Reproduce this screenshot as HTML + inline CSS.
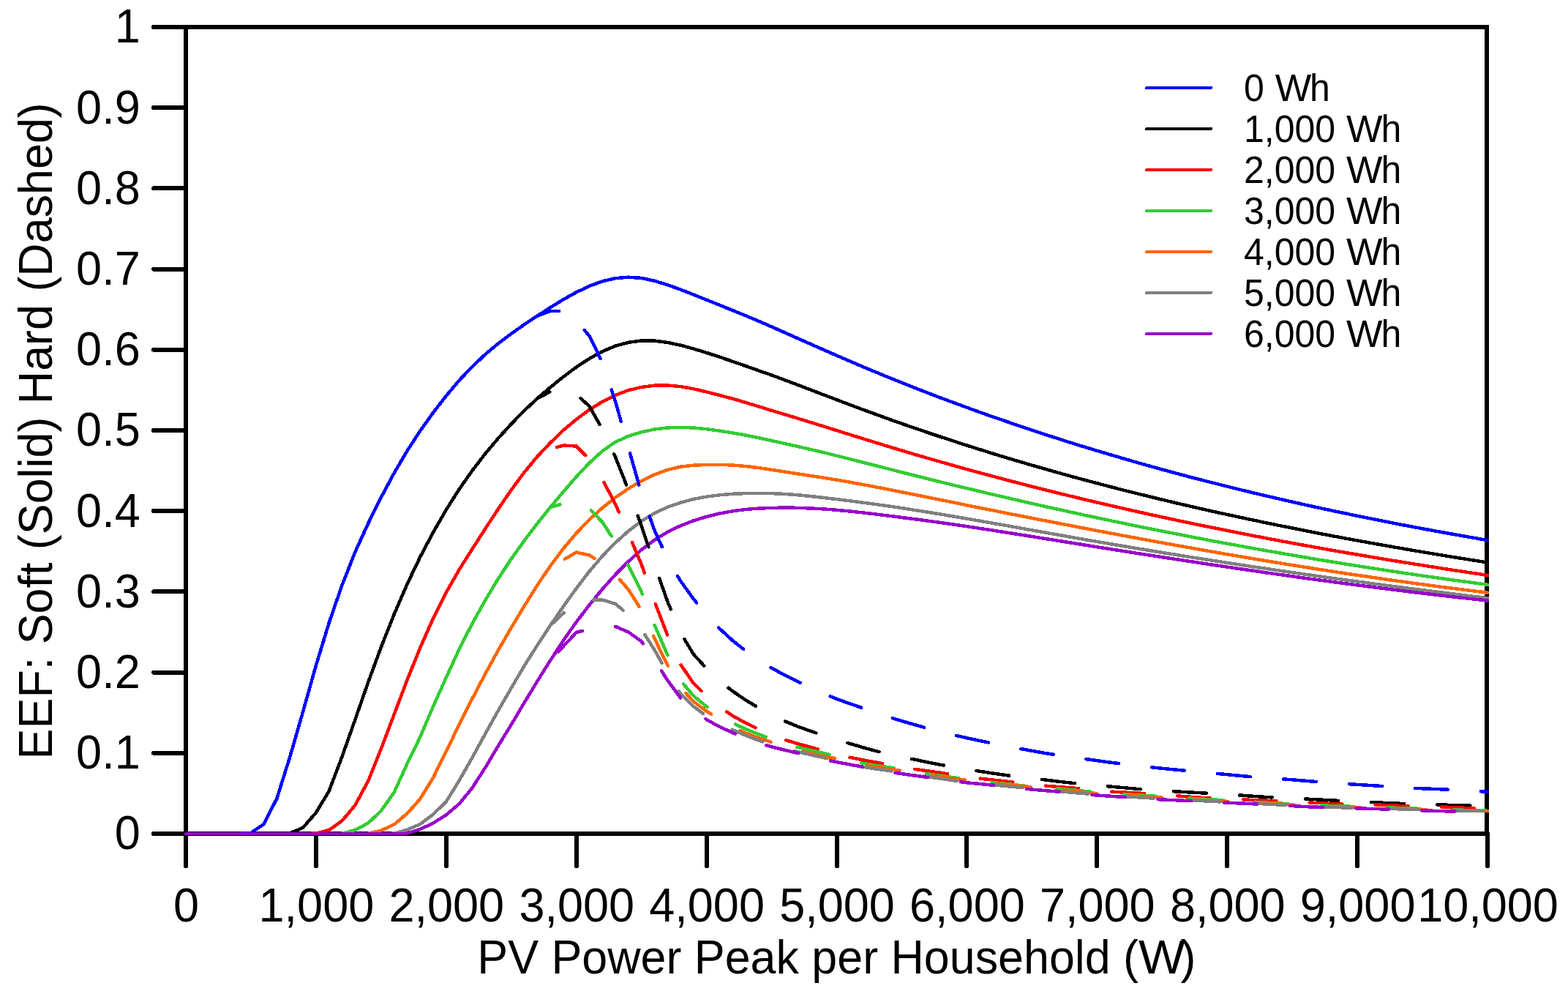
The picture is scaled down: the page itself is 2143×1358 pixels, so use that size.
<!DOCTYPE html>
<html lang="en"><head><meta charset="utf-8"><title>EEF vs PV Power Peak per Household</title>
<style>html,body{margin:0;padding:0;background:#fff}body{width:2143px;height:1358px;overflow:hidden}svg{display:block}text{font-family:"Liberation Sans",sans-serif;fill:#000}</style></head><body>
<svg width="2143" height="1358" viewBox="0 0 2143 1358">
<rect width="2143" height="1358" fill="#fff"/>
<g stroke="#000" stroke-width="6" fill="none" stroke-linecap="round" shape-rendering="crispEdges">
<path d="M254 37 L254 1139 M2032 37 L2032 1139 M254 37 L2032 37 M254 1139 L2032 1139" stroke-linecap="square"/>
<line x1="210" y1="1139.0" x2="254" y2="1139.0"/>
<line x1="210" y1="1028.8" x2="254" y2="1028.8"/>
<line x1="210" y1="918.6" x2="254" y2="918.6"/>
<line x1="210" y1="808.4" x2="254" y2="808.4"/>
<line x1="210" y1="698.2" x2="254" y2="698.2"/>
<line x1="210" y1="588.0" x2="254" y2="588.0"/>
<line x1="210" y1="477.8" x2="254" y2="477.8"/>
<line x1="210" y1="367.6" x2="254" y2="367.6"/>
<line x1="210" y1="257.4" x2="254" y2="257.4"/>
<line x1="210" y1="147.2" x2="254" y2="147.2"/>
<line x1="210" y1="37.0" x2="254" y2="37.0"/>
<line x1="254" y1="1139" x2="254" y2="1183"/>
<line x1="432" y1="1139" x2="432" y2="1183"/>
<line x1="610" y1="1139" x2="610" y2="1183"/>
<line x1="788" y1="1139" x2="788" y2="1183"/>
<line x1="966" y1="1139" x2="966" y2="1183"/>
<line x1="1144" y1="1139" x2="1144" y2="1183"/>
<line x1="1321" y1="1139" x2="1321" y2="1183"/>
<line x1="1499" y1="1139" x2="1499" y2="1183"/>
<line x1="1677" y1="1139" x2="1677" y2="1183"/>
<line x1="1855" y1="1139" x2="1855" y2="1183"/>
<line x1="2033" y1="1139" x2="2033" y2="1183"/>
</g>
<g fill="none" stroke-width="4.5" stroke-linejoin="round" stroke-linecap="round" shape-rendering="crispEdges">
<path d="M254.0 1139.0 L271.8 1139.0 L289.6 1139.0 L307.4 1139.0 L325.2 1139.0" stroke="#0000ff" stroke-width="4"/>
<path d="M325.2 1139.0 L342.9 1138.0 L360.7 1125.8 L378.5 1090.6 L396.3 1033.9 L414.1 972.2 L431.9 909.1 L449.7 850.8 L467.5 799.3 L485.3 754.3 L503.1 715.3 L520.9 679.5 L538.6 646.4 L556.4 616.1 L574.2 588.7 L592.0 563.8 L609.8 540.8 L627.6 519.7 L645.4 500.9 L663.2 484.1 L681.0 469.2 L698.8 455.9 L716.5 443.4 L734.3 431.6 L752.1 420.1 L769.9 409.2 L787.7 399.3 L805.5 390.8 L823.3 384.3 L841.1 380.2 L858.9 378.7 L876.6 379.9 L894.4 383.7 L912.2 389.1 L930.0 395.6 L947.8 402.5 L965.6 409.6 L983.4 416.8 L1001.2 424.0 L1019.0 431.2 L1036.8 438.7 L1054.5 446.4 L1072.3 454.3 L1090.1 462.2 L1107.9 470.1 L1125.7 477.9 L1143.5 485.7 L1161.3 493.4 L1179.1 501.0 L1196.9 508.4 L1214.7 515.7 L1232.5 522.8 L1250.2 529.9 L1268.0 536.8 L1285.8 543.6 L1303.6 550.2 L1321.4 556.7 L1339.2 563.2 L1357.0 569.5 L1374.8 575.6 L1392.6 581.7 L1410.3 587.7 L1428.1 593.5 L1445.9 599.2 L1463.7 604.9 L1481.5 610.4 L1499.3 615.8 L1517.1 621.1 L1534.9 626.3 L1552.7 631.5 L1570.5 636.5 L1588.2 641.4 L1606.0 646.2 L1623.8 651.0 L1641.6 655.6 L1659.4 660.1 L1677.2 664.6 L1695.0 669.0 L1712.8 673.3 L1730.6 677.5 L1748.4 681.6 L1766.2 685.7 L1783.9 689.7 L1801.7 693.6 L1819.5 697.4 L1837.3 701.1 L1855.1 704.8 L1872.9 708.4 L1890.7 712.0 L1908.5 715.5 L1926.3 718.9 L1944.0 722.2 L1961.8 725.5 L1979.6 728.7 L1997.4 731.9 L2015.2 735.0 L2033.0 738.1" stroke="#0000ff"/>
<path d="M254.0 1139.0 L271.8 1139.0 L289.6 1139.0 L307.4 1139.0 L325.2 1139.0 L342.9 1139.0 L360.7 1139.0 L378.5 1139.0" stroke="#000000" stroke-width="4"/>
<path d="M378.5 1139.0 L396.3 1138.3 L414.1 1130.8 L431.9 1110.2 L449.7 1080.6 L467.5 1033.7 L485.3 983.4 L503.1 932.3 L520.9 884.1 L538.6 839.3 L556.4 798.3 L574.2 761.0 L592.0 727.4 L609.8 696.4 L627.6 668.4 L645.4 643.0 L663.2 619.8 L681.0 598.7 L698.8 579.2 L716.5 561.0 L734.3 544.5 L752.1 529.2 L769.9 514.8 L787.7 501.6 L805.5 489.9 L823.3 480.1 L841.1 472.6 L858.9 467.8 L876.6 465.5 L894.4 465.6 L912.2 467.9 L930.0 471.6 L947.8 476.5 L965.6 481.9 L983.4 487.7 L1001.2 493.8 L1019.0 500.0 L1036.8 506.3 L1054.5 512.5 L1072.3 519.1 L1090.1 525.8 L1107.9 532.6 L1125.7 539.4 L1143.5 546.1 L1161.3 552.9 L1179.1 559.5 L1196.9 566.0 L1214.7 572.5 L1232.5 578.8 L1250.2 584.9 L1268.0 591.0 L1285.8 596.9 L1303.6 602.8 L1321.4 608.5 L1339.2 614.1 L1357.0 619.7 L1374.8 625.1 L1392.6 630.4 L1410.3 635.6 L1428.1 640.7 L1445.9 645.7 L1463.7 650.7 L1481.5 655.5 L1499.3 660.2 L1517.1 664.9 L1534.9 669.5 L1552.7 673.9 L1570.5 678.3 L1588.2 682.6 L1606.0 686.9 L1623.8 691.0 L1641.6 695.1 L1659.4 699.1 L1677.2 703.0 L1695.0 706.8 L1712.8 710.6 L1730.6 714.3 L1748.4 718.0 L1766.2 721.5 L1783.9 725.0 L1801.7 728.5 L1819.5 731.9 L1837.3 735.2 L1855.1 738.5 L1872.9 741.7 L1890.7 744.9 L1908.5 748.0 L1926.3 751.1 L1944.0 754.1 L1961.8 757.1 L1979.6 760.0 L1997.4 762.9 L2015.2 765.7 L2033.0 768.5" stroke="#000000"/>
<path d="M254.0 1139.0 L271.8 1139.0 L289.6 1139.0 L307.4 1139.0 L325.2 1139.0 L342.9 1139.0 L360.7 1139.0 L378.5 1139.0 L396.3 1139.0 L414.1 1139.0" stroke="#ff0000" stroke-width="4"/>
<path d="M414.1 1139.0 L431.9 1138.6 L449.7 1134.0 L467.5 1121.4 L485.3 1100.2 L503.1 1067.1 L520.9 1022.9 L538.6 976.1 L556.4 929.2 L574.2 885.0 L592.0 844.9 L609.8 809.3 L627.6 778.2 L645.4 750.1 L663.2 722.4 L681.0 695.3 L698.8 669.3 L716.5 645.3 L734.3 623.8 L752.1 605.0 L769.9 587.9 L787.7 572.9 L805.5 559.8 L823.3 548.8 L841.1 539.8 L858.9 533.2 L876.6 528.9 L894.4 526.7 L912.2 526.5 L930.0 528.1 L947.8 531.2 L965.6 535.4 L983.4 540.0 L1001.2 544.7 L1019.0 549.9 L1036.8 555.3 L1054.5 560.8 L1072.3 566.1 L1090.1 571.5 L1107.9 577.0 L1125.7 582.5 L1143.5 588.1 L1161.3 593.7 L1179.1 599.2 L1196.9 604.7 L1214.7 610.2 L1232.5 615.5 L1250.2 620.8 L1268.0 626.0 L1285.8 631.1 L1303.6 636.1 L1321.4 641.1 L1339.2 646.0 L1357.0 650.7 L1374.8 655.5 L1392.6 660.1 L1410.3 664.7 L1428.1 669.2 L1445.9 673.6 L1463.7 677.9 L1481.5 682.2 L1499.3 686.4 L1517.1 690.5 L1534.9 694.6 L1552.7 698.6 L1570.5 702.6 L1588.2 706.4 L1606.0 710.3 L1623.8 714.0 L1641.6 717.7 L1659.4 721.3 L1677.2 724.9 L1695.0 728.4 L1712.8 731.9 L1730.6 735.3 L1748.4 738.7 L1766.2 742.0 L1783.9 745.2 L1801.7 748.4 L1819.5 751.6 L1837.3 754.7 L1855.1 757.7 L1872.9 760.7 L1890.7 763.7 L1908.5 766.6 L1926.3 769.5 L1944.0 772.3 L1961.8 775.1 L1979.6 777.9 L1997.4 780.6 L2015.2 783.3 L2033.0 785.9" stroke="#ff0000"/>
<path d="M254.0 1139.0 L271.8 1139.0 L289.6 1139.0 L307.4 1139.0 L325.2 1139.0 L342.9 1139.0 L360.7 1139.0 L378.5 1139.0 L396.3 1139.0 L414.1 1139.0 L431.9 1139.0 L449.7 1139.0" stroke="#33cc33" stroke-width="4"/>
<path d="M449.7 1139.0 L467.5 1138.8 L485.3 1134.0 L503.1 1124.6 L520.9 1107.7 L538.6 1082.6 L556.4 1043.6 L574.2 1007.0 L592.0 965.1 L609.8 925.6 L627.6 886.9 L645.4 851.9 L663.2 820.1 L681.0 790.4 L698.8 763.5 L716.5 738.7 L734.3 715.2 L752.1 693.2 L769.9 671.9 L787.7 651.3 L805.5 632.4 L823.3 616.2 L841.1 603.9 L858.9 595.8 L876.6 590.3 L894.4 586.6 L912.2 584.4 L930.0 583.8 L947.8 584.5 L965.6 586.2 L983.4 588.6 L1001.2 591.4 L1019.0 594.5 L1036.8 598.2 L1054.5 602.0 L1072.3 606.0 L1090.1 609.9 L1107.9 614.0 L1125.7 618.2 L1143.5 622.6 L1161.3 627.1 L1179.1 631.6 L1196.9 636.1 L1214.7 640.7 L1232.5 645.2 L1250.2 649.7 L1268.0 654.1 L1285.8 658.5 L1303.6 662.9 L1321.4 667.1 L1339.2 671.4 L1357.0 675.6 L1374.8 679.7 L1392.6 683.8 L1410.3 687.9 L1428.1 691.9 L1445.9 695.8 L1463.7 699.7 L1481.5 703.6 L1499.3 707.4 L1517.1 711.1 L1534.9 714.8 L1552.7 718.5 L1570.5 722.1 L1588.2 725.6 L1606.0 729.1 L1623.8 732.6 L1641.6 736.0 L1659.4 739.4 L1677.2 742.7 L1695.0 745.9 L1712.8 749.2 L1730.6 752.3 L1748.4 755.4 L1766.2 758.5 L1783.9 761.5 L1801.7 764.5 L1819.5 767.4 L1837.3 770.3 L1855.1 773.1 L1872.9 775.9 L1890.7 778.6 L1908.5 781.3 L1926.3 784.0 L1944.0 786.6 L1961.8 789.1 L1979.6 791.6 L1997.4 794.0 L2015.2 796.4 L2033.0 798.8" stroke="#33cc33"/>
<path d="M254.0 1139.0 L271.8 1139.0 L289.6 1139.0 L307.4 1139.0 L325.2 1139.0 L342.9 1139.0 L360.7 1139.0 L378.5 1139.0 L396.3 1139.0 L414.1 1139.0 L431.9 1139.0 L449.7 1139.0 L467.5 1139.0 L485.3 1139.0" stroke="#ff6600" stroke-width="4"/>
<path d="M485.3 1139.0 L503.1 1138.8 L520.9 1134.6 L538.6 1126.4 L556.4 1111.5 L574.2 1091.5 L592.0 1062.6 L609.8 1026.3 L627.6 990.0 L645.4 954.6 L663.2 920.6 L681.0 888.3 L698.8 857.5 L716.5 828.0 L734.3 799.5 L752.1 773.3 L769.9 749.5 L787.7 728.4 L805.5 709.9 L823.3 693.8 L841.1 679.7 L858.9 667.5 L876.6 657.0 L894.4 648.4 L912.2 641.9 L930.0 637.7 L947.8 635.7 L965.6 634.9 L983.4 634.8 L1001.2 635.5 L1019.0 637.0 L1036.8 639.1 L1054.5 641.8 L1072.3 644.5 L1090.1 647.3 L1107.9 650.0 L1125.7 652.7 L1143.5 655.6 L1161.3 658.7 L1179.1 662.0 L1196.9 665.3 L1214.7 668.8 L1232.5 672.3 L1250.2 675.8 L1268.0 679.4 L1285.8 683.0 L1303.6 686.6 L1321.4 690.2 L1339.2 693.8 L1357.0 697.3 L1374.8 700.9 L1392.6 704.4 L1410.3 707.9 L1428.1 711.3 L1445.9 714.8 L1463.7 718.2 L1481.5 721.6 L1499.3 725.0 L1517.1 728.4 L1534.9 731.7 L1552.7 735.0 L1570.5 738.3 L1588.2 741.5 L1606.0 744.7 L1623.8 747.9 L1641.6 751.1 L1659.4 754.2 L1677.2 757.3 L1695.0 760.3 L1712.8 763.3 L1730.6 766.3 L1748.4 769.2 L1766.2 772.1 L1783.9 774.9 L1801.7 777.7 L1819.5 780.4 L1837.3 783.2 L1855.1 785.8 L1872.9 788.4 L1890.7 791.0 L1908.5 793.5 L1926.3 796.0 L1944.0 798.4 L1961.8 800.8 L1979.6 803.1 L1997.4 805.3 L2015.2 807.5 L2033.0 809.7" stroke="#ff6600"/>
<path d="M254.0 1139.0 L271.8 1139.0 L289.6 1139.0 L307.4 1139.0 L325.2 1139.0 L342.9 1139.0 L360.7 1139.0 L378.5 1139.0 L396.3 1139.0 L414.1 1139.0 L431.9 1139.0 L449.7 1139.0 L467.5 1139.0 L485.3 1139.0 L503.1 1139.0 L520.9 1139.0" stroke="#808080" stroke-width="4"/>
<path d="M520.9 1139.0 L538.6 1138.7 L556.4 1133.7 L574.2 1126.0 L592.0 1112.7 L609.8 1095.2 L627.6 1066.4 L645.4 1035.1 L663.2 1002.6 L681.0 970.7 L698.8 939.9 L716.5 909.8 L734.3 881.6 L752.1 854.5 L769.9 828.6 L787.7 803.8 L805.5 780.6 L823.3 759.7 L841.1 741.4 L858.9 725.5 L876.6 712.0 L894.4 701.2 L912.2 692.9 L930.0 686.7 L947.8 681.9 L965.6 678.6 L983.4 676.3 L1001.2 674.8 L1019.0 674.1 L1036.8 673.8 L1054.5 674.1 L1072.3 674.9 L1090.1 676.2 L1107.9 678.0 L1125.7 680.0 L1143.5 682.1 L1161.3 684.3 L1179.1 686.6 L1196.9 689.0 L1214.7 691.5 L1232.5 694.1 L1250.2 696.9 L1268.0 699.7 L1285.8 702.6 L1303.6 705.6 L1321.4 708.6 L1339.2 711.7 L1357.0 714.8 L1374.8 717.9 L1392.6 721.1 L1410.3 724.3 L1428.1 727.5 L1445.9 730.6 L1463.7 733.8 L1481.5 736.9 L1499.3 740.0 L1517.1 743.0 L1534.9 746.0 L1552.7 749.0 L1570.5 751.9 L1588.2 754.9 L1606.0 757.7 L1623.8 760.6 L1641.6 763.4 L1659.4 766.1 L1677.2 768.9 L1695.0 771.6 L1712.8 774.3 L1730.6 776.9 L1748.4 779.5 L1766.2 782.1 L1783.9 784.7 L1801.7 787.2 L1819.5 789.7 L1837.3 792.1 L1855.1 794.5 L1872.9 796.9 L1890.7 799.3 L1908.5 801.6 L1926.3 803.9 L1944.0 806.2 L1961.8 808.4 L1979.6 810.6 L1997.4 812.8 L2015.2 815.0 L2033.0 817.1" stroke="#808080"/>
<path d="M254.0 1139.0 L271.8 1139.0 L289.6 1139.0 L307.4 1139.0 L325.2 1139.0 L342.9 1139.0 L360.7 1139.0 L378.5 1139.0 L396.3 1139.0 L414.1 1139.0 L431.9 1139.0 L449.7 1139.0 L467.5 1139.0 L485.3 1139.0 L503.1 1139.0 L520.9 1139.0 L538.6 1139.0" stroke="#9900cc" stroke-width="4"/>
<path d="M538.6 1139.0 L556.4 1138.5 L574.2 1132.9 L592.0 1124.6 L609.8 1113.3 L627.6 1098.3 L645.4 1076.4 L663.2 1048.8 L681.0 1018.9 L698.8 989.9 L716.5 960.1 L734.3 930.8 L752.1 902.3 L769.9 875.1 L787.7 849.8 L805.5 826.4 L823.3 804.8 L841.1 785.0 L858.9 767.1 L876.6 751.2 L894.4 737.8 L912.2 726.9 L930.0 718.3 L947.8 711.4 L965.6 705.9 L983.4 701.6 L1001.2 698.3 L1019.0 696.0 L1036.8 694.6 L1054.5 693.9 L1072.3 693.6 L1090.1 693.8 L1107.9 694.5 L1125.7 695.4 L1143.5 696.8 L1161.3 698.5 L1179.1 700.4 L1196.9 702.5 L1214.7 704.7 L1232.5 707.0 L1250.2 709.2 L1268.0 711.6 L1285.8 714.1 L1303.6 716.6 L1321.4 719.2 L1339.2 721.9 L1357.0 724.6 L1374.8 727.4 L1392.6 730.2 L1410.3 733.0 L1428.1 735.9 L1445.9 738.7 L1463.7 741.6 L1481.5 744.4 L1499.3 747.3 L1517.1 750.1 L1534.9 752.9 L1552.7 755.7 L1570.5 758.4 L1588.2 761.2 L1606.0 763.9 L1623.8 766.6 L1641.6 769.3 L1659.4 772.0 L1677.2 774.6 L1695.0 777.2 L1712.8 779.8 L1730.6 782.4 L1748.4 784.9 L1766.2 787.4 L1783.9 789.9 L1801.7 792.3 L1819.5 794.7 L1837.3 797.1 L1855.1 799.4 L1872.9 801.7 L1890.7 804.0 L1908.5 806.2 L1926.3 808.4 L1944.0 810.5 L1961.8 812.6 L1979.6 814.7 L1997.4 816.7 L2015.2 818.6 L2033.0 820.6" stroke="#9900cc"/>
<path d="M254.0 1139.0 L271.8 1139.0 L289.6 1139.0 L307.4 1139.0 L325.2 1139.0 L342.9 1138.0 L360.7 1125.8" stroke="#0000ff" stroke-width="4" stroke-dasharray="45.12 45.13"/>
<path d="M360.7 1125.8 L378.5 1090.6 L396.3 1033.9 L414.1 972.2 L431.9 909.1 L449.7 850.8 L467.5 799.3 L485.3 754.3 L503.1 715.3 L520.9 679.5 L538.6 646.4 L556.4 616.1 L574.2 588.7 L592.0 563.8 L609.8 540.8 L627.6 519.7 L645.4 500.9 L663.2 484.1 L681.0 469.2 L698.8 455.9 L716.5 443.4 L734.3 431.6 L752.1 425.0 L769.9 424.7 L787.7 437.0 L805.5 459.2 L823.3 495.2 L841.1 548.6 L858.9 611.6 L876.6 674.2 L894.4 724.1 L912.2 763.6 L930.0 793.5 L947.8 818.3 L965.6 840.0 L983.4 858.8 L1001.2 875.0 L1019.0 889.2 L1036.8 901.7 L1054.5 912.7 L1072.3 922.2 L1090.1 931.0 L1107.9 939.6 L1125.7 947.7 L1143.5 954.9 L1161.3 961.3 L1179.1 967.4 L1196.9 973.6 L1214.7 979.6 L1232.5 985.0 L1250.2 990.2 L1268.0 995.1 L1285.8 999.8 L1303.6 1004.2 L1321.4 1008.2 L1339.2 1012.0 L1357.0 1015.7 L1374.8 1019.2 L1392.6 1022.5 L1410.3 1025.8 L1428.1 1028.9 L1445.9 1031.8 L1463.7 1034.3 L1481.5 1036.7 L1499.3 1039.1 L1517.1 1041.6 L1534.9 1043.8 L1552.7 1046.0 L1570.5 1048.0 L1588.2 1049.8 L1606.0 1051.5 L1623.8 1053.1 L1641.6 1054.8 L1659.4 1056.5 L1677.2 1058.2 L1695.0 1059.9 L1712.8 1061.5 L1730.6 1062.8 L1748.4 1064.0 L1766.2 1065.3 L1783.9 1066.8 L1801.7 1068.2 L1819.5 1069.5 L1837.3 1070.7 L1855.1 1071.9 L1872.9 1073.0 L1890.7 1074.1 L1908.5 1075.3 L1926.3 1076.4 L1944.0 1077.3 L1961.8 1078.0 L1979.6 1078.7 L1997.4 1079.7 L2015.2 1080.7 L2033.0 1081.8" stroke="#0000ff" stroke-dasharray="45.12 45.13" stroke-dashoffset="19.5"/>
<path d="M254.0 1139.0 L271.8 1139.0 L289.6 1139.0 L307.4 1139.0 L325.2 1139.0 L342.9 1139.0 L360.7 1139.0 L378.5 1139.0 L396.3 1138.3 L414.1 1130.8" stroke="#000000" stroke-width="4" stroke-dasharray="45.12 45.13"/>
<path d="M414.1 1130.8 L431.9 1110.2 L449.7 1080.6 L467.5 1033.7 L485.3 983.4 L503.1 932.3 L520.9 884.1 L538.6 839.3 L556.4 798.3 L574.2 761.0 L592.0 727.4 L609.8 696.4 L627.6 668.4 L645.4 643.0 L663.2 619.8 L681.0 598.7 L698.8 579.2 L716.5 561.0 L734.3 544.5 L752.1 535.0 L769.9 533.0 L787.7 539.1 L805.5 554.9 L823.3 586.6 L841.1 624.5 L858.9 669.6 L876.6 718.1 L894.4 771.1 L912.2 821.4 L930.0 864.0 L947.8 893.8 L965.6 913.2 L983.4 930.0 L1001.2 944.2 L1019.0 956.4 L1036.8 967.1 L1054.5 976.7 L1072.3 985.2 L1090.1 992.4 L1107.9 998.9 L1125.7 1004.9 L1143.5 1010.5 L1161.3 1015.8 L1179.1 1021.1 L1196.9 1026.0 L1214.7 1030.2 L1232.5 1034.0 L1250.2 1037.7 L1268.0 1041.4 L1285.8 1044.9 L1303.6 1048.0 L1321.4 1051.0 L1339.2 1053.8 L1357.0 1056.5 L1374.8 1059.1 L1392.6 1061.4 L1410.3 1063.4 L1428.1 1065.4 L1445.9 1067.6 L1463.7 1069.6 L1481.5 1071.4 L1499.3 1072.9 L1517.1 1074.5 L1534.9 1076.1 L1552.7 1077.7 L1570.5 1079.1 L1588.2 1080.2 L1606.0 1081.3 L1623.8 1082.3 L1641.6 1083.3 L1659.4 1084.4 L1677.2 1085.4 L1695.0 1086.5 L1712.8 1087.8 L1730.6 1089.0 L1748.4 1089.9 L1766.2 1090.7 L1783.9 1091.5 L1801.7 1092.4 L1819.5 1093.4 L1837.3 1094.3 L1855.1 1095.1 L1872.9 1095.9 L1890.7 1096.8 L1908.5 1097.6 L1926.3 1098.3 L1944.0 1098.9 L1961.8 1099.4 L1979.6 1099.8 L1997.4 1100.2 L2015.2 1100.7 L2033.0 1101.3" stroke="#000000" stroke-dasharray="45.12 45.13" stroke-dashoffset="72.1"/>
<path d="M254.0 1139.0 L271.8 1139.0 L289.6 1139.0 L307.4 1139.0 L325.2 1139.0 L342.9 1139.0 L360.7 1139.0 L378.5 1139.0 L396.3 1139.0 L414.1 1139.0 L431.9 1138.6 L449.7 1134.0 L467.5 1121.4" stroke="#ff0000" stroke-width="4" stroke-dasharray="45.12 45.13"/>
<path d="M467.5 1121.4 L485.3 1100.2 L503.1 1067.1 L520.9 1022.9 L538.6 976.1 L556.4 929.2 L574.2 885.0 L592.0 844.9 L609.8 809.3 L627.6 778.2 L645.4 750.1 L663.2 722.4 L681.0 695.3 L698.8 669.3 L716.5 645.3 L734.3 623.8 L752.1 613.5 L769.9 608.5 L787.7 609.5 L805.5 627.4 L823.3 654.8 L841.1 688.8 L858.9 729.3 L876.6 770.8 L894.4 821.5 L912.2 867.6 L930.0 907.5 L947.8 933.5 L965.6 950.9 L983.4 965.9 L1001.2 977.9 L1019.0 987.7 L1036.8 996.3 L1054.5 1003.9 L1072.3 1010.6 L1090.1 1016.0 L1107.9 1020.8 L1125.7 1025.6 L1143.5 1030.4 L1161.3 1034.7 L1179.1 1038.3 L1196.9 1041.5 L1214.7 1044.7 L1232.5 1047.8 L1250.2 1050.8 L1268.0 1053.4 L1285.8 1055.8 L1303.6 1058.4 L1321.4 1061.1 L1339.2 1063.6 L1357.0 1065.6 L1374.8 1067.5 L1392.6 1069.4 L1410.3 1071.6 L1428.1 1073.5 L1445.9 1075.0 L1463.7 1076.3 L1481.5 1077.9 L1499.3 1079.8 L1517.1 1081.5 L1534.9 1082.5 L1552.7 1083.4 L1570.5 1084.4 L1588.2 1085.8 L1606.0 1087.2 L1623.8 1088.5 L1641.6 1089.8 L1659.4 1090.8 L1677.2 1091.6 L1695.0 1092.3 L1712.8 1093.0 L1730.6 1093.7 L1748.4 1094.5 L1766.2 1095.3 L1783.9 1096.2 L1801.7 1097.1 L1819.5 1098.0 L1837.3 1098.6 L1855.1 1099.0 L1872.9 1099.3 L1890.7 1099.8 L1908.5 1100.6 L1926.3 1101.4 L1944.0 1101.8 L1961.8 1102.2 L1979.6 1102.8 L1997.4 1103.6 L2015.2 1104.3 L2033.0 1104.8" stroke="#ff0000" stroke-dasharray="45.12 45.13" stroke-dashoffset="34.1"/>
<path d="M254.0 1139.0 L271.8 1139.0 L289.6 1139.0 L307.4 1139.0 L325.2 1139.0 L342.9 1139.0 L360.7 1139.0 L378.5 1139.0 L396.3 1139.0 L414.1 1139.0 L431.9 1139.0 L449.7 1139.0 L467.5 1138.8 L485.3 1134.0 L503.1 1124.6" stroke="#33cc33" stroke-width="4" stroke-dasharray="45.12 45.13"/>
<path d="M503.1 1124.6 L520.9 1107.7 L538.6 1082.6 L556.4 1043.6 L574.2 1007.0 L592.0 965.1 L609.8 925.6 L627.6 886.9 L645.4 851.9 L663.2 820.1 L681.0 790.4 L698.8 763.5 L716.5 738.7 L734.3 715.2 L752.1 693.0 L769.9 688.0 L787.7 687.5 L805.5 694.6 L823.3 713.4 L841.1 740.8 L858.9 772.7 L876.6 808.5 L894.4 853.3 L912.2 894.8 L930.0 929.8 L947.8 950.6 L965.6 965.4 L983.4 977.6 L1001.2 987.7 L1019.0 996.0 L1036.8 1003.1 L1054.5 1009.6 L1072.3 1015.6 L1090.1 1020.8 L1107.9 1025.1 L1125.7 1029.0 L1143.5 1033.6 L1161.3 1038.7 L1179.1 1042.8 L1196.9 1045.7 L1214.7 1048.3 L1232.5 1051.3 L1250.2 1054.5 L1268.0 1057.4 L1285.8 1059.9 L1303.6 1062.3 L1321.4 1064.6 L1339.2 1066.8 L1357.0 1068.9 L1374.8 1070.9 L1392.6 1072.8 L1410.3 1074.5 L1428.1 1075.9 L1445.9 1077.4 L1463.7 1079.1 L1481.5 1080.8 L1499.3 1082.3 L1517.1 1083.7 L1534.9 1084.9 L1552.7 1086.1 L1570.5 1087.3 L1588.2 1088.3 L1606.0 1089.4 L1623.8 1090.4 L1641.6 1091.4 L1659.4 1092.5 L1677.2 1093.5 L1695.0 1094.6 L1712.8 1095.6 L1730.6 1096.6 L1748.4 1097.5 L1766.2 1098.5 L1783.9 1099.3 L1801.7 1100.2 L1819.5 1100.9 L1837.3 1101.5 L1855.1 1102.1 L1872.9 1102.6 L1890.7 1103.2 L1908.5 1103.8 L1926.3 1104.4 L1944.0 1105.0 L1961.8 1105.6 L1979.6 1106.2 L1997.4 1106.7 L2015.2 1107.1 L2033.0 1107.5" stroke="#33cc33" stroke-dasharray="45.12 45.13" stroke-dashoffset="71.7"/>
<path d="M254.0 1139.0 L271.8 1139.0 L289.6 1139.0 L307.4 1139.0 L325.2 1139.0 L342.9 1139.0 L360.7 1139.0 L378.5 1139.0 L396.3 1139.0 L414.1 1139.0 L431.9 1139.0 L449.7 1139.0 L467.5 1139.0 L485.3 1139.0 L503.1 1138.8 L520.9 1134.6 L538.6 1126.4" stroke="#ff6600" stroke-width="4" stroke-dasharray="45.12 45.13"/>
<path d="M538.6 1126.4 L556.4 1111.5 L574.2 1091.5 L592.0 1062.6 L609.8 1026.3 L627.6 990.0 L645.4 954.6 L663.2 920.6 L681.0 888.3 L698.8 857.5 L716.5 828.0 L734.3 799.5 L752.1 773.3 L769.9 765.0 L787.7 754.6 L805.5 758.5 L823.3 769.8 L841.1 785.1 L858.9 805.5 L876.6 833.5 L894.4 872.1 L912.2 908.4 L930.0 939.0 L947.8 958.4 L965.6 971.6 L983.4 983.2 L1001.2 993.3 L1019.0 1001.4 L1036.8 1008.2 L1054.5 1014.1 L1072.3 1019.8 L1090.1 1024.9 L1107.9 1029.2 L1125.7 1032.9 L1143.5 1036.6 L1161.3 1040.6 L1179.1 1044.4 L1196.9 1047.6 L1214.7 1050.4 L1232.5 1053.1 L1250.2 1055.8 L1268.0 1058.4 L1285.8 1061.0 L1303.6 1063.6 L1321.4 1065.9 L1339.2 1067.9 L1357.0 1069.7 L1374.8 1071.6 L1392.6 1073.5 L1410.3 1075.3 L1428.1 1076.9 L1445.9 1078.4 L1463.7 1080.2 L1481.5 1082.3 L1499.3 1084.1 L1517.1 1085.2 L1534.9 1086.1 L1552.7 1087.2 L1570.5 1088.6 L1588.2 1089.8 L1606.0 1090.9 L1623.8 1091.9 L1641.6 1092.9 L1659.4 1093.9 L1677.2 1094.8 L1695.0 1095.7 L1712.8 1096.6 L1730.6 1097.6 L1748.4 1098.5 L1766.2 1099.4 L1783.9 1100.3 L1801.7 1101.2 L1819.5 1101.9 L1837.3 1102.5 L1855.1 1103.1 L1872.9 1103.7 L1890.7 1104.2 L1908.5 1104.8 L1926.3 1105.3 L1944.0 1105.8 L1961.8 1106.3 L1979.6 1106.7 L1997.4 1107.2 L2015.2 1107.6 L2033.0 1108.0" stroke="#ff6600" stroke-dasharray="45.12 45.13" stroke-dashoffset="14.4"/>
<path d="M254.0 1139.0 L271.8 1139.0 L289.6 1139.0 L307.4 1139.0 L325.2 1139.0 L342.9 1139.0 L360.7 1139.0 L378.5 1139.0 L396.3 1139.0 L414.1 1139.0 L431.9 1139.0 L449.7 1139.0 L467.5 1139.0 L485.3 1139.0 L503.1 1139.0 L520.9 1139.0 L538.6 1138.7 L556.4 1133.7 L574.2 1126.0" stroke="#808080" stroke-width="4" stroke-dasharray="45.12 45.13"/>
<path d="M574.2 1126.0 L592.0 1112.7 L609.8 1095.2 L627.6 1066.4 L645.4 1035.1 L663.2 1002.6 L681.0 970.7 L698.8 939.9 L716.5 909.8 L734.3 881.6 L752.1 854.5 L769.9 838.0 L787.7 824.0 L805.5 819.5 L823.3 819.5 L841.1 825.0 L858.9 840.0 L876.6 859.9 L894.4 887.6 L912.2 919.6 L930.0 947.6 L947.8 965.1 L965.6 978.2 L983.4 988.5 L1001.2 997.0 L1019.0 1004.7 L1036.8 1011.5 L1054.5 1017.4 L1072.3 1022.5 L1090.1 1027.1 L1107.9 1031.2 L1125.7 1035.1 L1143.5 1039.3 L1161.3 1043.8 L1179.1 1047.6 L1196.9 1050.5 L1214.7 1052.9 L1232.5 1055.6 L1250.2 1058.3 L1268.0 1061.1 L1285.8 1063.8 L1303.6 1066.3 L1321.4 1068.5 L1339.2 1070.4 L1357.0 1072.3 L1374.8 1074.0 L1392.6 1075.7 L1410.3 1077.4 L1428.1 1079.2 L1445.9 1080.9 L1463.7 1082.6 L1481.5 1084.1 L1499.3 1085.5 L1517.1 1086.8 L1534.9 1088.0 L1552.7 1089.1 L1570.5 1090.2 L1588.2 1091.3 L1606.0 1092.3 L1623.8 1093.2 L1641.6 1094.1 L1659.4 1095.0 L1677.2 1095.9 L1695.0 1096.8 L1712.8 1097.6 L1730.6 1098.5 L1748.4 1099.5 L1766.2 1100.5 L1783.9 1101.4 L1801.7 1102.2 L1819.5 1102.8 L1837.3 1103.4 L1855.1 1103.8 L1872.9 1104.3 L1890.7 1104.7 L1908.5 1105.2 L1926.3 1105.8 L1944.0 1106.3 L1961.8 1106.8 L1979.6 1107.3 L1997.4 1107.6 L2015.2 1107.9 L2033.0 1108.2" stroke="#808080" stroke-dasharray="45.12 45.13" stroke-dashoffset="54.0"/>
<path d="M254.0 1139.0 L271.8 1139.0 L289.6 1139.0 L307.4 1139.0 L325.2 1139.0 L342.9 1139.0 L360.7 1139.0 L378.5 1139.0 L396.3 1139.0 L414.1 1139.0 L431.9 1139.0 L449.7 1139.0 L467.5 1139.0 L485.3 1139.0 L503.1 1139.0 L520.9 1139.0 L538.6 1139.0 L556.4 1138.5 L574.2 1132.9 L592.0 1124.6" stroke="#9900cc" stroke-width="4" stroke-dasharray="45.12 45.13"/>
<path d="M592.0 1124.6 L609.8 1113.3 L627.6 1098.3 L645.4 1076.4 L663.2 1048.8 L681.0 1018.9 L698.8 989.9 L716.5 960.1 L734.3 930.8 L752.1 902.3 L769.9 883.0 L787.7 864.0 L805.5 859.5 L823.3 856.3 L841.1 855.9 L858.9 863.6 L876.6 876.2 L894.4 901.3 L912.2 929.3 L930.0 953.3 L947.8 970.3 L965.6 983.1 L983.4 992.9 L1001.2 1001.0 L1019.0 1008.4 L1036.8 1015.0 L1054.5 1020.3 L1072.3 1024.7 L1090.1 1028.8 L1107.9 1033.2 L1125.7 1037.4 L1143.5 1041.1 L1161.3 1044.5 L1179.1 1047.8 L1196.9 1051.2 L1214.7 1054.5 L1232.5 1057.2 L1250.2 1059.6 L1268.0 1062.0 L1285.8 1064.6 L1303.6 1067.2 L1321.4 1069.3 L1339.2 1071.0 L1357.0 1072.7 L1374.8 1074.7 L1392.6 1076.8 L1410.3 1078.6 L1428.1 1080.1 L1445.9 1081.6 L1463.7 1083.3 L1481.5 1085.0 L1499.3 1086.5 L1517.1 1087.7 L1534.9 1088.9 L1552.7 1090.2 L1570.5 1091.4 L1588.2 1092.5 L1606.0 1093.2 L1623.8 1094.0 L1641.6 1094.9 L1659.4 1095.8 L1677.2 1096.7 L1695.0 1097.5 L1712.8 1098.3 L1730.6 1099.2 L1748.4 1100.2 L1766.2 1101.1 L1783.9 1102.1 L1801.7 1102.8 L1819.5 1103.5 L1837.3 1104.0 L1855.1 1104.4 L1872.9 1104.9 L1890.7 1105.4 L1908.5 1105.9 L1926.3 1106.6 L1944.0 1107.3 L1961.8 1107.9 L1979.6 1108.4 L1997.4 1108.7 L2015.2 1108.9 L2033.0 1109.0" stroke="#9900cc" stroke-dasharray="45.12 45.13" stroke-dashoffset="68.2"/>
</g>
<text transform="translate(191.70 1160.40) scale(1.0 1.04)" font-size="63" text-anchor="end">0</text>
<text transform="translate(191.70 1050.20) scale(1.0 1.04)" font-size="63" text-anchor="end">0.1</text>
<text transform="translate(191.70 940.00) scale(1.0 1.04)" font-size="63" text-anchor="end">0.2</text>
<text transform="translate(191.70 829.80) scale(1.0 1.04)" font-size="63" text-anchor="end">0.3</text>
<text transform="translate(191.70 719.60) scale(1.0 1.04)" font-size="63" text-anchor="end">0.4</text>
<text transform="translate(191.70 609.40) scale(1.0 1.04)" font-size="63" text-anchor="end">0.5</text>
<text transform="translate(191.70 499.20) scale(1.0 1.04)" font-size="63" text-anchor="end">0.6</text>
<text transform="translate(191.70 389.00) scale(1.0 1.04)" font-size="63" text-anchor="end">0.7</text>
<text transform="translate(191.70 278.80) scale(1.0 1.04)" font-size="63" text-anchor="end">0.8</text>
<text transform="translate(191.70 168.60) scale(1.0 1.04)" font-size="63" text-anchor="end">0.9</text>
<text transform="translate(191.70 58.40) scale(1.0 1.04)" font-size="63" text-anchor="end">1</text>
<text transform="translate(254.50 1259.00) scale(1.0 1.04)" font-size="63" text-anchor="middle">0</text>
<text transform="translate(432.40 1259.00) scale(1.0 1.04)" font-size="63" text-anchor="middle">1,000</text>
<text transform="translate(610.30 1259.00) scale(1.0 1.04)" font-size="63" text-anchor="middle">2,000</text>
<text transform="translate(788.20 1259.00) scale(1.0 1.04)" font-size="63" text-anchor="middle">3,000</text>
<text transform="translate(966.10 1259.00) scale(1.0 1.04)" font-size="63" text-anchor="middle">4,000</text>
<text transform="translate(1144.00 1259.00) scale(1.0 1.04)" font-size="63" text-anchor="middle">5,000</text>
<text transform="translate(1321.90 1259.00) scale(1.0 1.04)" font-size="63" text-anchor="middle">6,000</text>
<text transform="translate(1499.80 1259.00) scale(1.0 1.04)" font-size="63" text-anchor="middle">7,000</text>
<text transform="translate(1677.70 1259.00) scale(1.0 1.04)" font-size="63" text-anchor="middle">8,000</text>
<text transform="translate(1855.60 1259.00) scale(1.0 1.04)" font-size="63" text-anchor="middle">9,000</text>
<text transform="translate(2033.50 1259.00) scale(1.0 1.04)" font-size="63" text-anchor="middle">10,000</text>
<text transform="translate(652.30 1330.00) scale(0.9965 1.04)" font-size="63" text-anchor="start">PV Power Peak per Household (<tspan textLength="64" lengthAdjust="spacingAndGlyphs">W</tspan><tspan dx="-6.3">)</tspan></text>
<text transform="translate(71.00 588.80) rotate(-90) scale(0.9973 1.04)" font-size="63" text-anchor="middle">EEF: Soft (Solid) Hard (Dashed)</text>
<g stroke-width="4" stroke-linecap="round" shape-rendering="crispEdges">
<line x1="1567" y1="120" x2="1655" y2="120" stroke="#0000ff"/>
<line x1="1567" y1="176" x2="1655" y2="176" stroke="#000000"/>
<line x1="1567" y1="232" x2="1655" y2="232" stroke="#ff0000"/>
<line x1="1567" y1="288" x2="1655" y2="288" stroke="#33cc33"/>
<line x1="1567" y1="344" x2="1655" y2="344" stroke="#ff6600"/>
<line x1="1567" y1="400" x2="1655" y2="400" stroke="#808080"/>
<line x1="1567" y1="456" x2="1655" y2="456" stroke="#9900cc"/>
</g>
<text transform="translate(1700.00 137.60) scale(1.0 1.04)" font-size="50" text-anchor="start">0 <tspan dx="1" textLength="49.5" lengthAdjust="spacingAndGlyphs">W</tspan><tspan dx="-2.1">h</tspan></text>
<text transform="translate(1700.00 193.60) scale(1.0 1.04)" font-size="50" text-anchor="start">1,000 <tspan dx="1" textLength="49.5" lengthAdjust="spacingAndGlyphs">W</tspan><tspan dx="-2.1">h</tspan></text>
<text transform="translate(1700.00 249.60) scale(1.0 1.04)" font-size="50" text-anchor="start">2,000 <tspan dx="1" textLength="49.5" lengthAdjust="spacingAndGlyphs">W</tspan><tspan dx="-2.1">h</tspan></text>
<text transform="translate(1700.00 305.60) scale(1.0 1.04)" font-size="50" text-anchor="start">3,000 <tspan dx="1" textLength="49.5" lengthAdjust="spacingAndGlyphs">W</tspan><tspan dx="-2.1">h</tspan></text>
<text transform="translate(1700.00 361.60) scale(1.0 1.04)" font-size="50" text-anchor="start">4,000 <tspan dx="1" textLength="49.5" lengthAdjust="spacingAndGlyphs">W</tspan><tspan dx="-2.1">h</tspan></text>
<text transform="translate(1700.00 417.60) scale(1.0 1.04)" font-size="50" text-anchor="start">5,000 <tspan dx="1" textLength="49.5" lengthAdjust="spacingAndGlyphs">W</tspan><tspan dx="-2.1">h</tspan></text>
<text transform="translate(1700.00 473.60) scale(1.0 1.04)" font-size="50" text-anchor="start">6,000 <tspan dx="1" textLength="49.5" lengthAdjust="spacingAndGlyphs">W</tspan><tspan dx="-2.1">h</tspan></text>
</svg></body></html>
